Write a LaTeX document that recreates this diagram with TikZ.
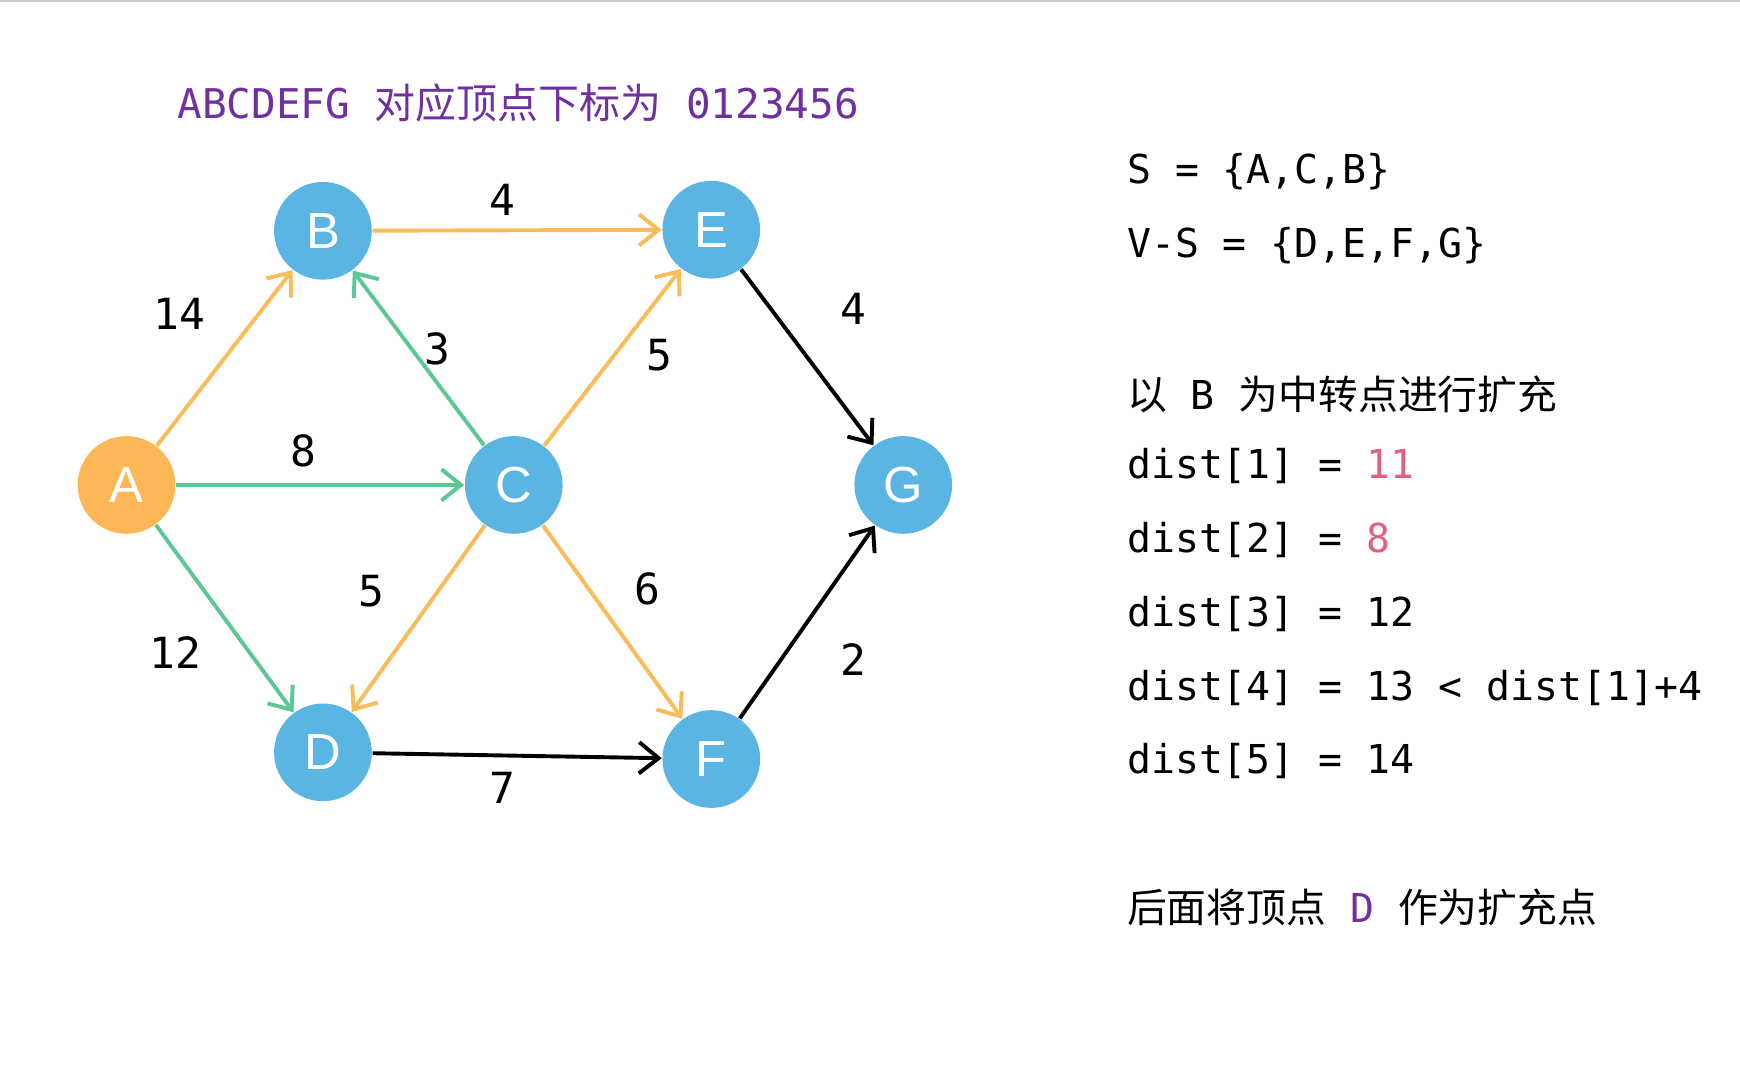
\documentclass[tikz,border=0pt]{standalone}
\usepackage{fontspec}
\setmainfont{Liberation Sans}
\newfontfamily\mono{DejaVu Sans Mono}
\newfontfamily\cjk{Noto Sans CJK SC}
\usetikzlibrary{arrows.meta}
\definecolor{nblue}{HTML}{5BB5E3}
\definecolor{norange}{HTML}{FDB756}
\definecolor{egreen}{HTML}{5BC893}
\definecolor{eorange}{HTML}{F9BC5A}
\definecolor{tpurple}{HTML}{7030A0}
\definecolor{tred}{HTML}{E0607E}
\begin{document}
\begin{tikzpicture}[x=0.01cm,y=-0.01cm,
  vtx/.style={circle,fill=nblue,minimum size=0.88cm,inner sep=0pt,text=white,font=\fontsize{13}{13}\selectfont},
  edg/.style={-{Straight Barb[length=5pt,width=8pt]},line width=1pt},
  wl/.style={font=\mono\fontsize{11}{11}\selectfont},
  rt/.style={anchor=west,font=\mono\fontsize{10.2}{11}\selectfont,inner sep=0pt}]
\useasboundingbox (0,0) rectangle (1568,984);
\draw[gray!40,line width=0.6pt] (0,1) -- (1568,1);
\node (tt) at (467,93) {\fontsize{10.5}{12}\selectfont\color{tpurple}\mono ABCDEFG\ \cjk 对应顶点下标为\mono\ 0123456};
\node[vtx,fill=norange] (A) at (114,437) {A};
\node[vtx] (B) at (291,208) {B};
\node[vtx] (E) at (641,207) {E};
\node[vtx] (C) at (463,437) {C};
\node[vtx] (G) at (814,437) {G};
\node[vtx] (D) at (291,678) {D};
\node[vtx] (F) at (641,684) {F};
\draw[edg,eorange] (A) -- (B);
\draw[edg,egreen] (A) -- (C);
\draw[edg,egreen] (A) -- (D);
\draw[edg,egreen] (C) -- (B);
\draw[edg,eorange] (B) -- (E);
\draw[edg,eorange] (C) -- (E);
\draw[edg,eorange] (C) -- (D);
\draw[edg,eorange] (C) -- (F);
\draw[edg,black] (E) -- (G);
\draw[edg,black] (D) -- (F);
\draw[edg,black] (F) -- (G);
\node[wl] (l1) at (162,283) {14};
\node[wl] (l2) at (273,406) {8};
\node[wl] (l3) at (158,588) {12};
\node[wl] (l4) at (453,180) {4};
\node[wl] (l5) at (394,314) {3};
\node[wl] (l6) at (594,320) {5};
\node[wl] (l7) at (335,533) {5};
\node[wl] (l8) at (583,531) {6};
\node[wl] (l9) at (769,278) {4};
\node[wl] (l10) at (769,594) {2};
\node[wl] (l11) at (453,710) {7};
\node[rt] (r1) at (1015,155) {S = \{A,C,B\}};
\node[rt] (r2) at (1015,221) {V-S = \{D,E,F,G\}};
\node[rt] (r3) at (1015,355) {\cjk 以\mono\ B\ \cjk 为中转点进行扩充};
\node[rt] (r4) at (1015,420) {dist[1] = \textcolor{tred}{11}};
\node[rt] (r5) at (1015,487) {dist[2] = \textcolor{tred}{8}};
\node[rt] (r6) at (1015,553) {dist[3] = 12};
\node[rt] (r7) at (1015,620) {dist[4] = 13 < dist[1]+4};
\node[rt] (r8) at (1015,686) {dist[5] = 14};
\node[rt] (r9) at (1015,818) {\cjk 后面将顶点\mono\ \textcolor{tpurple}{D}\ \cjk 作为扩充点};
\end{tikzpicture}
\end{document}
